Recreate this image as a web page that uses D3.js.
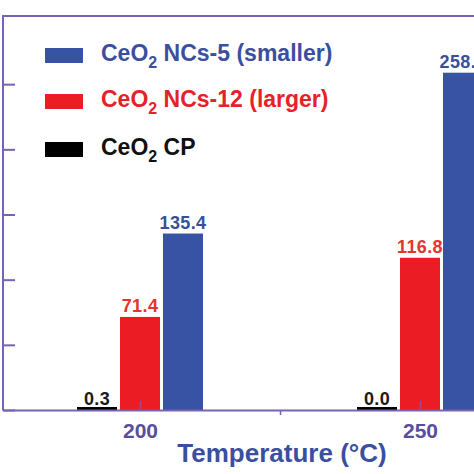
<!DOCTYPE html>
<html>
<head>
<meta charset="utf-8">
<script src="https://cdn.jsdelivr.net/npm/d3@7"></script>
<style>
  html, body { margin: 0; padding: 0; background: #fff; }
  svg { display: block; font-family: "Liberation Sans", Arial, sans-serif; }
  text { white-space: pre; }
</style>
</head>
<body>
<svg id="chart" width="474" height="474"></svg>
<script>
// ---- data ----
const temperatures = [200, 250];
const seriesKeys = ["CP", "NCs-12", "NCs-5"];
const seriesNames = ["CeO2 CP", "CeO2 NCs-12 (larger)", "CeO2 NCs-5 (smaller)"];
const cpValues = [0.3, 0.0];
const nc12Values = [71.4, 116.8];
const nc5Values = [135.4, 258.8];
const yTickValues = [0, 50, 100, 150, 200, 250];
const xTickValues = [200, 250];
const xMinorTickValues = [225];
const xTitle = "Temperature (°C)";

// ---- styles ----
const barColors = { "CP": "#000000", "NCs-12": "#ec1c24", "NCs-5": "#3953a4" };
const labelColors = { "CP": "#1a1a1a", "NCs-12": "#e3342f", "NCs-5": "#3a4f9c" };
const frameColor = "#7762b4";

const valuesByKey = { "CP": cpValues, "NCs-12": nc12Values, "NCs-5": nc5Values };

const svg = d3.select("#chart");
svg.append("rect").attr("width", 474).attr("height", 474).attr("fill", "#fff");

const x = d3.scaleLinear().domain([200, 250]).range([140, 420]);
const y = d3.scaleLinear().domain([0, 300]).range([410, 19]);
const inner = d3.scaleBand().domain(seriesKeys).range([-64.5, 64.5])
  .paddingInner(0.07).paddingOuter(0.035);

// bars
const barData = [];
temperatures.forEach((t, i) => {
  seriesKeys.forEach(k => barData.push({ t, k, v: valuesByKey[k][i] }));
});

svg.append("g").selectAll("rect").data(barData).join("rect")
  .attr("x", d => x(d.t) + inner(d.k))
  .attr("width", inner.bandwidth())
  .attr("y", d => y(0) - Math.max(y(0) - y(d.v), 3))
  .attr("height", d => Math.max(y(0) - y(d.v), 3))
  .attr("fill", d => barColors[d.k]);

// value labels
svg.append("g").selectAll("text").data(barData).join("text")
  .attr("x", d => x(d.t) + inner(d.k) + inner.bandwidth() / 2)
  .attr("y", d => y(d.v) - 5)
  .attr("text-anchor", "middle")
  .attr("font-size", 18)
  .attr("letter-spacing", 0.4)
  .attr("font-weight", "bold")
  .attr("fill", d => labelColors[d.k])
  .text(d => d.v.toFixed(1));

// frame (left, top) and bottom axis line
svg.append("path")
  .attr("d", "M3,410.5 V16 H474")
  .attr("fill", "none").attr("stroke", frameColor).attr("stroke-width", 2);
svg.append("path")
  .attr("d", "M3,410.5 H474")
  .attr("fill", "none").attr("stroke", frameColor).attr("stroke-width", 2);

// y axis ticks (their labels are cropped out of the view in the reference)
const yAxis = svg.append("g").attr("transform", "translate(3,0)")
  .call(d3.axisLeft(y).tickValues(yTickValues).tickSizeInner(-12).tickSizeOuter(0).tickFormat(""));
yAxis.select(".domain").remove();
yAxis.selectAll("line").attr("stroke", frameColor).attr("stroke-width", 2);

// x axis major ticks (inward) + labels
const xAxis = svg.append("g").attr("transform", "translate(0,410)")
  .call(d3.axisBottom(x).tickValues(xTickValues).tickSizeInner(-9).tickSizeOuter(0).tickPadding(13).tickFormat(d3.format("d")));
xAxis.select(".domain").remove();
xAxis.selectAll("line").attr("stroke", frameColor).attr("stroke-width", 1.5).attr("opacity", 0.7);
xAxis.selectAll("text").attr("font-size", 21).attr("font-weight", "bold").attr("fill", "#5a4d9e")
  .attr("font-family", "'Liberation Sans', Arial, sans-serif");

// x axis minor tick (outward)
const xMinor = svg.append("g").attr("transform", "translate(0,410)")
  .call(d3.axisBottom(x).tickValues(xMinorTickValues).tickSizeInner(5).tickSizeOuter(0).tickFormat(""));
xMinor.select(".domain").remove();
xMinor.selectAll("line").attr("stroke", frameColor).attr("stroke-width", 1.5);

// x axis title
svg.append("text")
  .attr("x", 282).attr("y", 462)
  .attr("text-anchor", "middle")
  .attr("font-size", 26).attr("font-weight", "bold")
  .attr("fill", "#3a4fa0")
  .text(xTitle);

// legend
const legendItems = [
  { k: "NCs-5", rest: " NCs-5 (smaller)", color: "#3953a4", textColor: "#3a4f9f" },
  { k: "NCs-12", rest: " NCs-12 (larger)", color: "#ec1c24", textColor: "#e5222a" },
  { k: "CP", rest: " CP", color: "#000000", textColor: "#111111" }
];
const legendTop = [48, 94, 142];
const lg = svg.append("g");
legendItems.forEach((it, i) => {
  lg.append("rect").attr("x", 45).attr("y", legendTop[i]).attr("width", 38).attr("height", 15)
    .attr("fill", it.color);
  const t = lg.append("text").attr("x", 101).attr("y", legendTop[i] + 13)
    .attr("font-size", 23).attr("font-weight", "bold").attr("fill", it.textColor);
  t.append("tspan").text("CeO");
  t.append("tspan").attr("font-size", 16).attr("dy", 7).text("2");
  t.append("tspan").attr("dy", -7).text(it.rest);
});
</script>
</body>
</html>
